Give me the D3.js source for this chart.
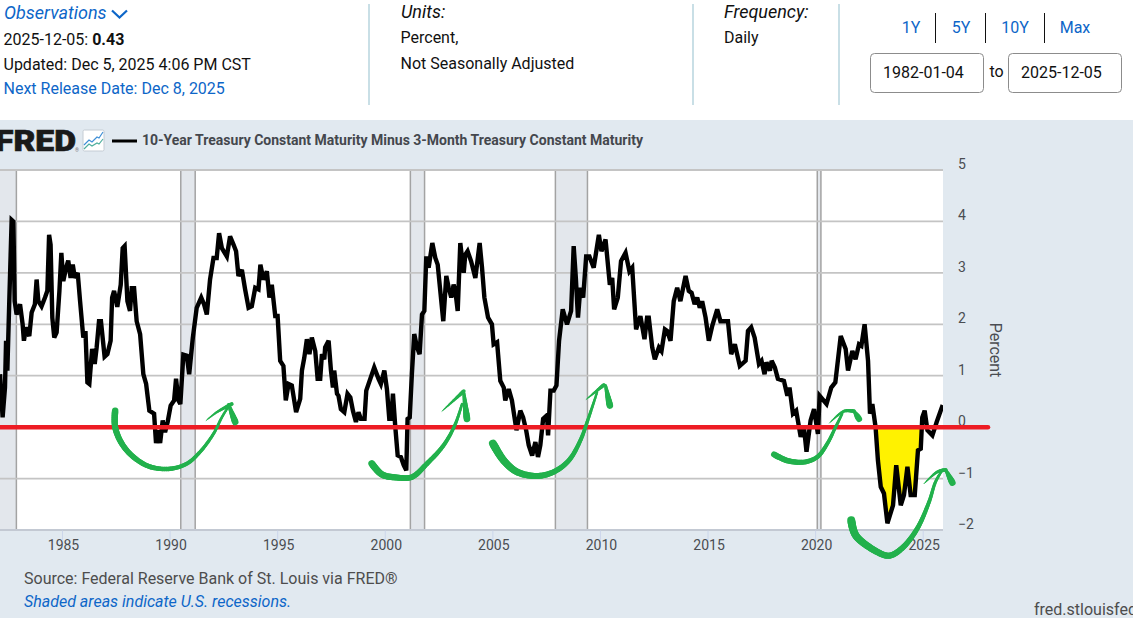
<!DOCTYPE html>
<html>
<head>
<meta charset="utf-8">
<script src="https://cdn.jsdelivr.net/npm/d3@7"></script>
<style>
  html, body { margin: 0; padding: 0; background: #fff; overflow: hidden; }
  text { font-family: Roboto, sans-serif; }
</style>
</head>
<body>
<div id="viz"></div>
<script>
// ── DATA ─────────────────────────────────────────────────────────────────────
// decimal years and spread values
const years = [
  1982.12,1982.24,1982.35,1982.40,1982.46,1982.55,1982.66,1982.74,1982.80,1982.89,
  1983.05,1983.17,1983.23,1983.33,1983.48,1983.59,1983.74,1983.82,1983.90,
  1984.05,1984.21,1984.32,1984.40,1984.47,1984.55,1984.64,1984.75,1984.88,1984.97,
  1985.06,1985.19,1985.29,1985.40,1985.50,1985.60,1985.73,1985.84,1985.99,
  1986.09,1986.18,1986.27,1986.40,1986.52,1986.61,1986.72,1986.81,1986.98,
  1987.11,1987.26,1987.33,1987.42,1987.57,1987.73,1987.82,1987.91,
  1988.04,1988.16,1988.24,1988.35,1988.47,1988.63,1988.78,1988.91,
  1989.06,1989.28,1989.37,1989.47,1989.56,1989.68,1989.79,1989.91,
  1990.05,1990.21,1990.30,1990.41,1990.50,1990.64,1990.80,1990.91,
  1991.08,1991.26,1991.47,1991.60,1991.73,1991.88,
  1992.04,1992.19,1992.30,1992.43,1992.66,1992.81,1992.97,
  1993.09,1993.20,1993.36,1993.51,1993.67,1993.82,1993.98,
  1994.13,1994.22,1994.36,1994.52,1994.64,1994.75,1994.91,
  1995.02,1995.14,1995.29,1995.40,1995.53,1995.68,1995.88,
  1996.07,1996.15,1996.26,1996.38,1996.50,1996.61,1996.77,1996.88,
  1997.00,1997.08,1997.19,1997.23,1997.39,1997.50,1997.59,1997.65,1997.78,1997.85,1997.96,
  1998.12,1998.27,1998.40,1998.52,1998.66,1998.78,1998.89,
  1999.06,1999.14,1999.33,1999.51,1999.71,1999.82,1999.98,
  2000.10,2000.21,2000.30,2000.38,2000.49,2000.60,2000.75,2000.88,
  2001.00,2001.06,2001.16,2001.26,2001.37,2001.50,2001.62,2001.73,2001.84,2001.93,
  2002.04,2002.21,2002.35,2002.46,2002.58,2002.72,2002.86,2002.97,
  2003.09,2003.20,2003.28,2003.39,2003.51,2003.67,2003.74,2003.85,
  2004.01,2004.21,2004.41,2004.52,2004.63,2004.80,2004.98,
  2005.06,2005.22,2005.37,2005.53,2005.60,2005.76,2005.91,
  2006.12,2006.30,2006.43,2006.57,2006.69,2006.85,
  2007.00,2007.12,2007.23,2007.36,2007.54,2007.59,2007.70,2007.85,2007.98,
  2008.10,2008.27,2008.47,2008.66,2008.78,2008.88,2008.98,
  2009.09,2009.22,2009.36,2009.51,2009.71,2009.95,
  2010.07,2010.26,2010.46,2010.57,2010.66,2010.83,2010.98,
  2011.19,2011.37,2011.50,2011.68,2011.88,
  2012.07,2012.19,2012.27,2012.43,2012.55,2012.74,2012.86,
  2013.02,2013.12,2013.28,2013.43,2013.59,2013.74,2013.98,
  2014.13,2014.26,2014.40,2014.52,2014.64,2014.75,2014.91,
  2015.06,2015.22,2015.45,2015.60,2015.95,
  2016.10,2016.27,2016.50,2016.77,2016.88,
  2017.03,2017.19,2017.39,2017.51,2017.65,2017.74,2017.90,2017.98,
  2018.13,2018.27,2018.55,2018.71,2018.81,2018.97,
  2019.12,2019.33,2019.48,2019.60,2019.79,2019.95,
  2020.13,2020.21,2020.53,2020.75,2020.94,
  2021.19,2021.42,2021.53,2021.73,2021.88,
  2022.04,2022.15,2022.30,2022.46,2022.55,2022.66,2022.81,2022.92,
  2023.05,2023.20,2023.36,2023.62,2023.77,2023.98,
  2024.13,2024.29,2024.44,2024.63,2024.78,2024.91,2024.98,
  2025.09,2025.22,2025.45,2025.65,2025.93
];
const spread = [
  1.03,0.19,0.77,1.68,1.10,2.45,4.03,4.00,2.45,2.19,
  2.39,2.00,1.68,1.94,1.77,2.23,2.39,2.87,2.45,
  2.35,2.52,2.65,3.74,3.55,2.13,1.74,1.84,2.65,3.39,
  2.84,3.10,3.24,2.90,3.16,2.90,3.00,2.45,1.74,
  1.87,0.87,0.84,1.52,1.23,1.55,2.06,2.06,1.37,
  1.42,1.68,2.52,2.65,2.34,2.77,3.48,3.52,
  2.45,2.26,2.70,2.70,2.06,1.81,1.03,0.84,
  0.32,0.26,-0.31,-0.06,-0.31,0.13,-0.10,0.10,
  0.42,0.52,0.94,0.52,0.45,1.41,1.39,1.03,
  1.74,2.32,2.52,2.39,2.19,2.87,
  3.29,3.29,3.77,3.48,3.32,3.71,3.55,
  3.42,2.94,3.06,2.68,2.32,2.35,2.71,
  2.68,3.16,2.87,3.03,2.52,2.77,2.16,
  2.16,1.29,1.19,0.52,0.84,0.81,0.29,
  0.55,1.10,1.35,1.71,1.42,1.74,1.48,0.94,
  0.94,1.42,1.32,1.55,1.68,1.10,0.77,1.10,0.65,0.61,0.35,
  0.29,0.65,0.58,0.32,0.10,0.29,0.16,
  0.16,0.71,0.94,1.16,0.94,0.84,1.10,
  0.74,0.16,0.16,0.65,0.00,-0.55,-0.58,-0.74,
  -0.84,0.16,0.19,1.03,1.81,1.55,1.42,2.19,2.26,3.32,
  3.10,3.58,3.29,3.16,2.65,2.06,2.94,2.71,
  2.52,2.77,2.65,2.26,3.58,3.00,3.35,3.42,
  3.23,2.90,3.58,3.10,2.52,2.13,2.00,
  1.61,1.65,0.90,0.77,0.52,0.74,0.52,
  -0.06,0.32,0.19,-0.06,-0.35,-0.55,
  -0.29,-0.58,-0.35,0.16,0.23,-0.16,0.71,0.71,0.81,
  1.68,2.29,2.00,2.26,3.52,2.90,2.13,
  2.71,2.52,3.32,3.32,3.10,3.74,
  3.42,3.65,2.77,2.90,2.29,2.52,3.23,
  3.39,3.03,3.10,1.90,2.16,
  1.71,2.13,2.13,1.55,1.32,1.55,1.48,
  1.90,1.87,1.68,2.45,2.71,2.45,2.94,
  2.65,2.61,2.39,2.52,2.32,2.45,2.13,
  1.68,1.97,2.29,2.06,2.06,
  1.42,1.61,1.19,1.29,1.87,
  1.94,1.74,1.23,1.29,1.03,1.26,1.10,1.29,
  1.16,0.94,0.90,0.61,0.77,0.26,
  0.32,-0.19,0.00,-0.48,0.13,0.35,
  -0.13,0.61,0.45,0.77,0.87,
  1.77,1.52,1.10,1.48,1.32,
  1.61,1.58,2.00,1.29,0.26,0.45,0.00,-0.65,
  -1.16,-1.29,-1.87,-1.52,-0.74,-1.52,
  -1.32,-0.77,-1.32,-1.32,-0.45,-0.42,0.19,
  0.32,-0.06,-0.16,0.10,0.43
];
const recessions = [[1981.54, 1982.88], [1990.52, 1991.19], [2001.19, 2001.85], [2007.93, 2009.42], [2020.10, 2020.27]];
const xTickYears = [1985, 1990, 1995, 2000, 2005, 2010, 2015, 2020, 2025];
const yTicks = [-2, -1, 0, 1, 2, 3, 4, 5];
const invertedSpan = [2022.72, 2024.92];

// hand drawn arrows on top of the chart: [year, percent]
const arrowBodies = [
  [[1987.47,0.32],[1987.47,0],[1987.78,-0.32],[1988.32,-0.58],[1989.09,-0.77],[1990.02,-0.81],[1990.80,-0.71],[1991.42,-0.48],[1992.04,-0.13],[1992.43,0.19],[1992.81,0.45]],
  [[1999.40,-0.71],[1999.87,-0.92],[2000.57,-0.98],[2001.26,-0.97],[2001.96,-0.71],[2002.74,-0.35],[2003.28,0.06],[2003.59,0.45]],
  [[2005.03,-0.32],[2005.53,-0.65],[2006.15,-0.87],[2007.08,-0.95],[2007.85,-0.87],[2008.55,-0.65],[2009.09,-0.26],[2009.48,0.19],[2009.87,0.68]],
  [[2018.09,-0.53],[2018.71,-0.65],[2019.48,-0.68],[2020.10,-0.58],[2020.57,-0.32],[2020.95,0],[2021.26,0.26]],
  [[2021.68,-1.81],[2021.88,-2.10],[2022.74,-2.39],[2023.43,-2.50],[2024.05,-2.35],[2024.75,-1.97],[2025.30,-1.45],[2025.60,-1.06],[2025.92,-0.83]]
];
const arrowHeads = [
  [[1991.70,0.13],[1992.19,0.29],[1992.89,0.45]],
  [[2002.66,0.31],[2003.67,0.70]],
  [[2009.36,0.54],[2010.18,0.82]],
  [[2020.67,0.08],[2021.34,0.31],[2021.81,0.31]],
  [[2025.06,-1.10],[2025.68,-0.87],[2026.07,-0.83]]
];
const arrowBarbs = [
  [[1992.74,0.44],[1993.05,0.10]],
  [[2003.67,0.68],[2003.82,0.16]],
  [[2010.26,0.81],[2010.46,0.42]],
  [[2021.81,0.31],[2022.04,0.16]],
  [[2026.07,-0.83],[2026.38,-1.08]]
];
const arrowStart = [6.5, 7, 8, 6, 8], arrowEnd = [2.2, 2.5, 2.2, 2.5, 2.5];

// ── SETTINGS ─────────────────────────────────────────────────────────────────
const width = 1136, height = 623;
const svg = d3.select("#viz").append("svg")
    .attr("viewBox", [0, 0, width, height])
    .attr("width", width)
    .attr("height", height)
    .style("display", "block");

const plot = {left: 0, right: 943, top: 170, bottom: 530};
const x = d3.scaleLinear().domain([1985, 2025]).range([62, 922.7]);
const y = d3.scaleLinear().domain([5, -2]).range([plot.top, plot.bottom]);
const series = years.map((d, i) => ({year: d, value: spread[i]}));

const blue = "#0d66c8", ink = "#111", axisInk = "#4a4d52", fredBg = "#e1e9f0";

// ── HEADER ───────────────────────────────────────────────────────────────────
function label(txt, px, py, opts = {}) {
  return svg.append("text")
      .attr("x", px).attr("y", py)
      .attr("font-size", opts.size || 16)
      .attr("font-style", opts.italic ? "italic" : null)
      .attr("font-weight", opts.weight || null)
      .attr("text-anchor", opts.anchor || null)
      .attr("fill", opts.fill || ink)
      .text(txt);
}
label("Observations", 4, 19, {italic: true, size: 18, fill: blue});
svg.append("path").attr("d", "M112 10.5L119.5 17.5L127 10.5").attr("fill", "none")
    .attr("stroke", blue).attr("stroke-width", 2.2);
const obs = label("2025-12-05: ", 3.5, 45);
obs.append("tspan").attr("font-weight", 700).text("0.43");
label("Updated: Dec 5, 2025 4:06 PM CST", 3.5, 70);
label("Next Release Date: Dec 8, 2025", 3.5, 94, {fill: blue});
label("Units:", 401, 18, {italic: true, size: 18});
label("Percent,", 400.5, 43);
label("Not Seasonally Adjusted", 400.5, 69);
label("Frequency:", 724, 18, {italic: true, size: 18});
label("Daily", 724, 43);

[369, 693, 839].forEach(d => svg.append("line")
    .attr("x1", d).attr("x2", d).attr("y1", 4).attr("y2", 105)
    .attr("stroke", "#c9dfe6").attr("stroke-width", 2));

[["1Y", 911], ["5Y", 961], ["10Y", 1015], ["Max", 1075]].forEach(d =>
    label(d[0], d[1], 33, {anchor: "middle", fill: blue}));
[935.5, 985.5, 1044.5].forEach(d => svg.append("line")
    .attr("x1", d).attr("x2", d).attr("y1", 13).attr("y2", 43)
    .attr("stroke", "#111").attr("stroke-width", 1));
[[870.5, "1982-01-04"], [1008.5, "2025-12-05"]].forEach(d => {
  svg.append("rect").attr("x", d[0]).attr("y", 53.5).attr("width", 113).attr("height", 39)
      .attr("rx", 4).attr("fill", "#fff").attr("stroke", "#8c8c8c");
  label(d[1], d[0] + 12.5, 78);
});
label("to", 989.5, 77);

// ── CHART BACKGROUND ─────────────────────────────────────────────────────────
svg.append("clipPath").attr("id", "pane").append("rect")
    .attr("x", 0).attr("y", 120).attr("width", 1133).attr("height", 498);
const pane = svg.append("g").attr("clip-path", "url(#pane)");
pane.append("rect").attr("x", 0).attr("y", 120).attr("width", 1133).attr("height", 498).attr("fill", fredBg);
pane.append("rect").attr("x", plot.left).attr("y", plot.top)
    .attr("width", plot.right - plot.left).attr("height", plot.bottom - plot.top).attr("fill", "#fff");

// recession bands
pane.selectAll("rect.recession").data(recessions).join("rect")
    .attr("class", "recession")
    .attr("x", d => x(d[0])).attr("y", plot.top)
    .attr("width", d => x(d[1]) - x(d[0])).attr("height", plot.bottom - plot.top)
    .attr("fill", "#e3e7ec");
pane.selectAll("line.recession-edge").data(recessions.flat()).join("line")
    .attr("class", "recession-edge")
    .attr("x1", d => x(d)).attr("x2", d => x(d))
    .attr("y1", plot.top).attr("y2", plot.bottom)
    .attr("stroke", "#a3a3a3").attr("stroke-width", 1.5);

// grid
pane.selectAll("line.grid").data(yTicks).join("line")
    .attr("class", "grid")
    .attr("x1", plot.left).attr("x2", plot.right)
    .attr("y1", d => y(d)).attr("y2", d => y(d))
    .attr("stroke", "#c4c4c4").attr("stroke-width", 1.8);

// axes
const xAxis = pane.append("g")
    .attr("transform", `translate(0,${plot.bottom})`)
    .call(d3.axisBottom(x).tickValues(xTickYears).tickFormat(d3.format("d")).tickSize(10).tickPadding(0));
xAxis.select(".domain").remove();
xAxis.selectAll("line").attr("stroke", "#ccd6eb");
xAxis.selectAll("text").attr("font-size", 14).attr("font-family", "Roboto, sans-serif")
    .attr("fill", axisInk).attr("dx", 1);
pane.append("line").attr("x1", plot.left).attr("x2", plot.right)
    .attr("y1", plot.bottom).attr("y2", plot.bottom)
    .attr("stroke", "#c3cbd8").attr("stroke-width", 1.5);

const yAxis = pane.append("g")
    .attr("transform", `translate(${plot.right},0)`)
    .call(d3.axisRight(y).tickValues(yTicks).tickFormat(d3.format("d")).tickSize(0).tickPadding(15));
yAxis.select(".domain").remove();
yAxis.selectAll("text").attr("font-size", 14).attr("font-family", "Roboto, sans-serif")
    .attr("fill", axisInk).attr("dy", -1.5);

pane.append("text")
    .attr("transform", "translate(990,350) rotate(90)")
    .attr("text-anchor", "middle")
    .attr("font-size", 16).attr("fill", axisInk)
    .text("Percent");

// ── YELLOW FILL, SERIES, RED LINE ────────────────────────────────────────────
const inverted = series.filter(d => d.year >= invertedSpan[0] && d.year <= invertedSpan[1] && d.value < 0);
pane.append("path").datum(inverted)
    .attr("fill", "#fff200")
    .attr("d", d3.area().x(d => x(d.year)).y0(y(0)).y1(d => y(d.value)));

pane.append("svg").attr("x", plot.left).attr("y", plot.top)
    .attr("width", plot.right - plot.left).attr("height", plot.bottom - plot.top)
    .attr("viewBox", [plot.left, plot.top, plot.right - plot.left, plot.bottom - plot.top])
  .append("path").datum(series)
    .attr("fill", "none")
    .attr("stroke", "#000")
    .attr("stroke-width", 4.4)
    .attr("stroke-linejoin", "miter")
    .attr("stroke-miterlimit", 3)
    .attr("d", d3.line().x(d => x(d.year)).y(d => y(d.value)));

svg.append("line")
    .attr("x1", 0).attr("x2", 988).attr("y1", y(0)).attr("y2", y(0))
    .attr("stroke", "#ed1c24").attr("stroke-width", 4.5).attr("stroke-linecap", "round");

// ── GREEN ARROWS ─────────────────────────────────────────────────────────────
const green = "#22b14c";
const arrowCurve = d3.line().x(d => x(d[0])).y(d => y(d[1])).curve(d3.curveCatmullRom);

// sample the smooth curve and draw short segments so the stroke can taper
function taper(pts, w0, w1) {
  const tmp = svg.append("path").attr("d", arrowCurve(pts)).attr("fill", "none").attr("stroke", "none");
  const len = tmp.node().getTotalLength();
  const n = Math.ceil(len / 2);
  const g = svg.append("g");
  for (let k = 0; k < n; k++) {
    const a = tmp.node().getPointAtLength(len * k / n);
    const b = tmp.node().getPointAtLength(len * (k + 1) / n);
    g.append("line").attr("x1", a.x).attr("y1", a.y).attr("x2", b.x).attr("y2", b.y)
        .attr("stroke", green).attr("stroke-linecap", "round")
        .attr("stroke-width", w0 + (w1 - w0) * k / n);
  }
  tmp.remove();
}
arrowBodies.forEach((pts, i) => taper(pts, arrowStart[i], arrowEnd[i]));
arrowHeads.forEach(pts => taper(pts, 1, 4));
arrowBarbs.forEach(pts => taper(pts, 3, 7));

// ── LEGEND ROW AND FOOTER ────────────────────────────────────────────────────
pane.append("text").attr("x", -5).attr("y", 151)
    .attr("font-size", 30).attr("font-weight", 900).attr("fill", "#1a1a1a")
    .attr("stroke", "#1a1a1a").attr("stroke-width", 0.7)
    .attr("textLength", 81).attr("lengthAdjust", "spacingAndGlyphs")
    .text("FRED");
pane.append("text").attr("x", 75).attr("y", 152).attr("font-size", 5).attr("fill", "#777").text("®");

// small chart icon
const icon = pane.append("g").attr("transform", "translate(83,130)");
icon.append("rect").attr("width", 21).attr("height", 21).attr("rx", 1.5)
    .attr("fill", "#fff").attr("stroke", "#c4ccd4");
icon.append("path").attr("d", "M1 15L6 10L9 12L14 7L16 8L20 2").attr("fill", "none").attr("stroke", "#3f8fd6").attr("stroke-width", 1.2);
icon.append("path").attr("d", "M1 19L6 14L9 16L14 13L16 14L20 9").attr("fill", "none").attr("stroke", "#4fae9d").attr("stroke-width", 1.2);

pane.append("line").attr("x1", 112).attr("x2", 137).attr("y1", 141).attr("y2", 141)
    .attr("stroke", "#000").attr("stroke-width", 3);
pane.append("text").attr("x", 142).attr("y", 145)
    .attr("font-size", 14).attr("font-weight", 700).attr("fill", "#44474d")
    .text("10-Year Treasury Constant Maturity Minus 3-Month Treasury Constant Maturity");

pane.append("text").attr("x", 24).attr("y", 584).attr("font-size", 16).attr("fill", "#4d4d4d")
    .text("Source: Federal Reserve Bank of St. Louis via FRED®");
pane.append("text").attr("x", 24).attr("y", 607).attr("font-size", 16).attr("font-style", "italic").attr("fill", blue)
    .text("Shaded areas indicate U.S. recessions.");
pane.append("text").attr("x", 1034).attr("y", 615).attr("font-size", 16).attr("fill", "#4d4d4d")
    .text("fred.stlouisfed.org");
</script>
</body>
</html>
